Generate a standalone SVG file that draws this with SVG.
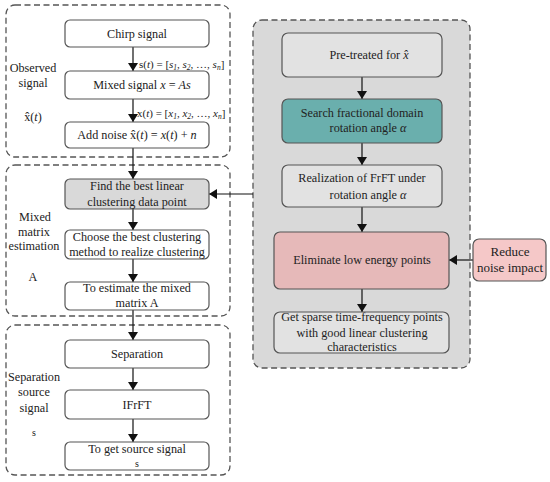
<svg xmlns="http://www.w3.org/2000/svg" width="550" height="482" viewBox="0 0 550 482" font-family="'Liberation Serif', 'DejaVu Serif', serif">
<defs>
<marker id="ah" markerWidth="8" markerHeight="10" refX="8" refY="5" orient="auto" markerUnits="userSpaceOnUse">
<path d="M0,0 L8,5 L0,10 Z" fill="#111"/>
</marker>
<style>
text{font-family:'Liberation Serif','DejaVu Serif',serif;font-size:12.2px;fill:#222;text-anchor:middle}
.grp{fill:none;stroke:#555;stroke-width:1.3;stroke-dasharray:6 3.5}
.box{fill:#fff;stroke:#555;stroke-width:1.2}
.gray{fill:#d9d9d9}
.lt{fill:#e2e2e2}
.teal{fill:#6aafad}
.pink{fill:#e6b9b9}
.pink2{fill:#f5c8c8}
.cn{stroke:#111;stroke-width:1.2;fill:none;marker-end:url(#ah)}
.f{font-size:11px;text-anchor:start}
.i{font-style:italic}
.sub{font-size:7.5px;font-style:italic}
</style>
</defs>
<rect width="550" height="482" fill="#fff"/>
<g id="groups">
<rect id="grp-observed" class="grp" x="6" y="5" width="224" height="152" rx="9"/>
<rect id="grp-mixed" class="grp" x="6" y="165" width="224" height="151" rx="9"/>
<rect id="grp-separation" class="grp" x="6" y="325" width="224" height="150" rx="9"/>
<rect id="grp-right" class="grp" x="253" y="20" width="217" height="348" rx="9" style="fill:#d9d9d9"/>
</g>
<g id="group-labels">
<text x="33" y="72">Observed</text>
<text x="33" y="87">signal</text>
<text x="33" y="121">x̂(<tspan class="i">t</tspan>)</text>
<text x="35" y="221">Mixed</text>
<text x="34" y="236">matrix</text>
<text x="34" y="250">estimation</text>
<text x="33" y="281">A</text>
<text x="34" y="381">Separation</text>
<text x="34" y="396">source</text>
<text x="34" y="412">signal</text>
<text x="34" y="436" style="font-size:10px">s</text>
</g>
<g id="connectors">
<line class="cn" x1="133" y1="47" x2="133" y2="71"/>
<line class="cn" x1="133" y1="99" x2="133" y2="122"/>
<line class="cn" x1="133" y1="148" x2="133" y2="179"/>
<line class="cn" x1="133" y1="209" x2="133" y2="230"/>
<line class="cn" x1="133" y1="259" x2="133" y2="282"/>
<line class="cn" x1="133" y1="310" x2="133" y2="340"/>
<line class="cn" x1="133" y1="368" x2="133" y2="390"/>
<line class="cn" x1="133" y1="419" x2="133" y2="442"/>
<line class="cn" x1="253" y1="194" x2="209" y2="194"/>
<line class="cn" x1="362" y1="77" x2="362" y2="99"/>
<line class="cn" x1="362" y1="143" x2="362" y2="165"/>
<line class="cn" x1="362" y1="207" x2="362" y2="232"/>
<line class="cn" x1="362" y1="289" x2="362" y2="312"/>
<line class="cn" x1="473" y1="260" x2="449" y2="260"/>
</g>
<g id="edge-labels">
<text class="f" x="139" y="68"><tspan>s(</tspan><tspan class="i">t</tspan><tspan>) = [</tspan><tspan class="i">s</tspan><tspan class="sub" dy="2">1</tspan><tspan dy="-2">, </tspan><tspan class="i">s</tspan><tspan class="sub" dy="2">2</tspan><tspan dy="-2">, …, </tspan><tspan class="i">s</tspan><tspan class="sub" dy="2">n</tspan><tspan dy="-2">]</tspan></text>
<text class="f" x="137" y="117"><tspan>x(</tspan><tspan class="i">t</tspan><tspan>) = [</tspan><tspan class="i">x</tspan><tspan class="sub" dy="2">1</tspan><tspan dy="-2">, </tspan><tspan class="i">x</tspan><tspan class="sub" dy="2">2</tspan><tspan dy="-2">, …, </tspan><tspan class="i">x</tspan><tspan class="sub" dy="2">n</tspan><tspan dy="-2">]</tspan></text>
</g>
<g id="n-chirp"><rect class="box" x="65" y="20" width="144" height="27" rx="5"/><text x="137" y="38">Chirp signal</text></g>
<g id="n-mixed"><rect class="box" x="65" y="71" width="144" height="28" rx="5"/><text x="142" y="89">Mixed signal <tspan class="i">x</tspan> = <tspan class="i">As</tspan></text></g>
<g id="n-noise"><rect class="box" x="65" y="122" width="144" height="26" rx="5"/><text x="137" y="139">Add noise  x̂(<tspan class="i">t</tspan>) = <tspan class="i">x</tspan>(<tspan class="i">t</tspan>) + <tspan class="i">n</tspan></text></g>
<g id="n-find"><rect class="box gray" x="65" y="179" width="144" height="30" rx="5"/><text x="137" y="190">Find the best linear</text><text x="137" y="206">clustering data point</text></g>
<g id="n-choose"><rect class="box" x="65" y="230" width="144" height="29" rx="5"/><text x="137" y="241">Choose the best clustering</text><text x="137" y="256">method to realize clustering</text></g>
<g id="n-estimate"><rect class="box" x="65" y="282" width="144" height="28" rx="5"/><text x="137" y="292">To estimate the mixed</text><text x="137" y="307">matrix A</text></g>
<g id="n-separation"><rect class="box" x="65" y="340" width="144" height="28" rx="5"/><text x="137" y="358">Separation</text></g>
<g id="n-ifrft"><rect class="box" x="65" y="390" width="144" height="29" rx="5"/><text x="137" y="409">IFrFT</text></g>
<g id="n-source"><rect class="box" x="65" y="442" width="144" height="28" rx="5"/><text x="137" y="453">To get source signal</text><text x="137" y="467" style="font-size:10px">s</text></g>
<g id="n-pretreated"><rect class="box lt" x="282" y="33" width="160" height="44" rx="6"/><text x="369" y="59">Pre-treated for  <tspan class="i">x̂</tspan></text></g>
<g id="n-search"><rect class="box teal" x="282" y="99" width="160" height="44" rx="6"/><text x="362" y="117">Search fractional domain</text><text x="368" y="132">rotation angle  <tspan class="i">α</tspan></text></g>
<g id="n-realization"><rect class="box lt" x="282" y="165" width="160" height="42" rx="6"/><text x="362" y="182">Realization of FrFT under</text><text x="368" y="199">rotation angle  <tspan class="i">α</tspan></text></g>
<g id="n-eliminate"><rect class="box pink" x="274" y="232" width="175" height="57" rx="6"/><text x="362" y="264">Eliminate low energy points</text></g>
<g id="n-sparse"><rect class="box lt" x="274" y="312" width="175" height="41" rx="6"/><text x="362" y="321">Get sparse time-frequency points</text><text x="362" y="337">with good linear clustering</text><text x="362" y="351">characteristics</text></g>
<g id="n-reduce"><rect class="box pink2" x="473" y="239" width="73" height="42" rx="6"/><text x="510" y="256" style="font-size:13px">Reduce</text><text x="510" y="272" style="font-size:13px">noise impact</text></g>
</svg>
